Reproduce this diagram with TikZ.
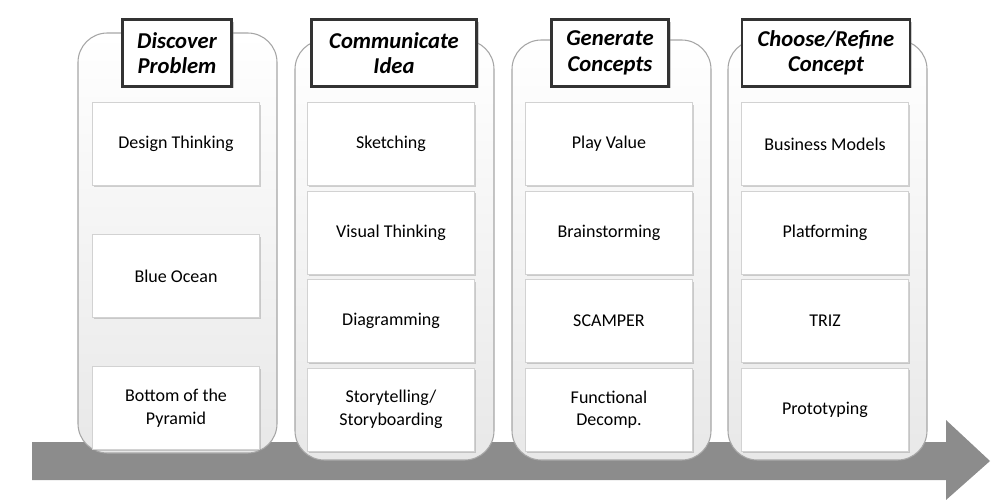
\documentclass[tikz,border=0pt]{standalone}
\usepackage{fontspec}
\setmainfont{Carlito}
\usetikzlibrary{positioning}
\usetikzlibrary{shadows}

\tikzset{
  panel/.style={draw=gray!70, line width=0.8pt, rounded corners=22pt, top color=white, bottom color=gray!18},
  tool/.style={draw=gray!35, fill=white, minimum width=125pt, minimum height=62pt, align=center,
    font=\fontsize{13.5}{17}\selectfont, drop shadow={opacity=0.35, shadow xshift=1pt, shadow yshift=-1.5pt}},
  stage/.style={draw=black!80, line width=2pt, fill=white, align=center, inner sep=2pt,
    minimum height=50pt, font=\fontsize{17}{19}\selectfont\bfseries\itshape,
    drop shadow={opacity=0.4, shadow xshift=1.5pt, shadow yshift=-1.5pt}}
}

\begin{document}
\begin{tikzpicture}[x=0.75pt, y=-0.75pt]
  \useasboundingbox (0,0) rectangle (1000,500);
  % progress arrow
  \fill[gray!80!black!75] (32,442) -- (946,442) -- (946,420) -- (990,461) -- (946,500) -- (946,480) -- (32,480) -- cycle;

  % stage panels
  \foreach \x/\t in {78/33, 295/40, 512/40, 728/40}
    \draw[panel] (\x,\t) rectangle ++(199,420);

  \node[stage, minimum width=82pt] (disc) at (177,53) {Discover\\Problem};
  \node[stage, minimum width=124pt] (comm) at (394,53) {Communicate\\Idea};
  \node[stage, minimum width=88pt] (gen) at (610,53) {Generate\\Concepts};
  \node[stage, minimum width=126pt] (choose) at (826,53) {Choose/Refine\\Concept};

  % column 1
  \node[tool] (design) at (176,144) {Design Thinking};
  \node[tool] (ocean) at (176,276) {Blue Ocean};
  \node[tool] (pyramid) at (176,408) {Bottom of the\\Pyramid};

  % column 2
  \node[tool] (sketch) at (391,144) {Sketching};
  \node[tool, below=4pt of sketch] (visual) {Visual Thinking};
  \node[tool, below=4pt of visual] (diagram) {Diagramming};
  \node[tool, below=4pt of diagram] (story) {Storytelling/\\Storyboarding};

  % column 3
  \node[tool] (play) at (609,144) {Play Value};
  \node[tool, below=4pt of play] (brain) {Brainstorming};
  \node[tool, below=4pt of brain] (scamper) {SCAMPER};
  \node[tool, below=4pt of scamper] (decomp) {Functional\\Decomp.};

  % column 4
  \node[tool] (business) at (825,144) {Business Models};
  \node[tool, below=4pt of business] (platform) {Platforming};
  \node[tool, below=4pt of platform] (triz) {TRIZ};
  \node[tool, below=4pt of triz] (proto) {Prototyping};
\end{tikzpicture}
\end{document}
